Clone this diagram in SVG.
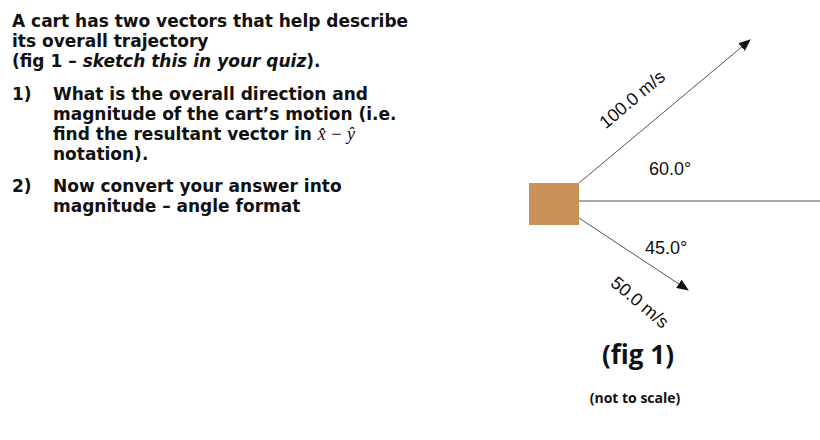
<svg xmlns="http://www.w3.org/2000/svg" width="820" height="440" viewBox="0 0 820 440">
<style>
.t{font-family:"DejaVu Sans",sans-serif;font-weight:bold;font-size:17px;fill:#111}
.l{font-family:"Liberation Sans",Arial,sans-serif;font-size:18px;fill:#111}
.ln{stroke:#555;stroke-width:1;fill:none}
</style>
<defs><marker id="ah" markerWidth="12" markerHeight="10" refX="11" refY="5" orient="auto" markerUnits="userSpaceOnUse"><path d="M0,0 L12,5 L0,10 Z" fill="#111"/></marker></defs>
<rect width="820" height="440" fill="#fff"/>
<g id="text">
<text class="t" x="12" y="27">A cart has two vectors that help describe</text>
<text class="t" x="12" y="47">its overall trajectory</text>
<text class="t" x="12" y="67">(fig 1 –  <tspan font-style="italic">sketch this in your quiz</tspan>).</text>
<text class="t" x="12" y="100">1)</text>
<text class="t" x="53" y="100">What is the overall direction and</text>
<text class="t" x="53" y="120">magnitude of the cart’s motion (i.e.</text>
<text class="t" x="53" y="140">find the resultant vector in <tspan font-family="'Liberation Serif',serif" font-weight="normal" font-style="italic" font-size="18">x̂ − ŷ</tspan></text>
<text class="t" x="53" y="160">notation).</text>
<text class="t" x="12" y="192">2)</text>
<text class="t" x="53" y="192">Now convert your answer into</text>
<text class="t" x="53" y="212">magnitude – angle format</text>
</g>
<g id="connectors">
<line class="ln" x1="579" y1="201" x2="820" y2="201"/>
<line class="ln" x1="579" y1="183" x2="750" y2="40" marker-end="url(#ah)"/>
<line class="ln" x1="579" y1="218" x2="688" y2="290" marker-end="url(#ah)"/>
</g>
<g id="cart"><rect x="529" y="183" width="50" height="42" fill="#c8925a"/></g>
<g id="labels">
<text class="l" transform="translate(636,104) rotate(-40)" text-anchor="middle">100.0 m/s</text>
<text class="l" x="670" y="175" text-anchor="middle">60.0°</text>
<text class="l" x="666" y="254" text-anchor="middle">45.0°</text>
<text class="l" transform="translate(636,307) rotate(40)" text-anchor="middle">50.0 m/s</text>
<text x="638" y="364" text-anchor="middle" font-family="'Open Sans',sans-serif" font-weight="bold" font-size="26" fill="#111">(fig 1)</text>
<text x="635" y="403" text-anchor="middle" font-family="'Open Sans',sans-serif" font-weight="bold" font-size="14" fill="#111">(not to scale)</text>
</g>
</svg>
